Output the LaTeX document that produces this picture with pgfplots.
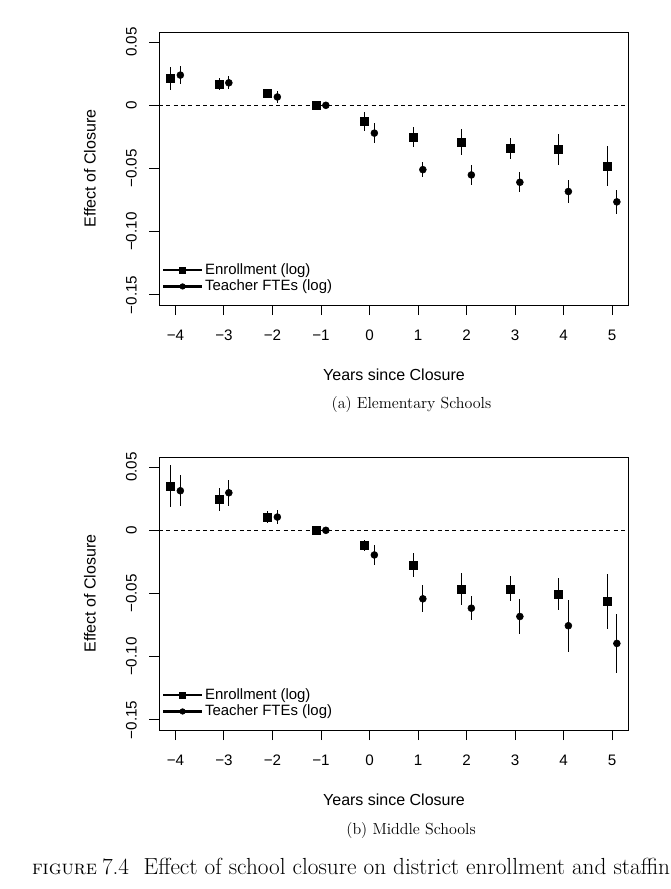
\documentclass[border=0pt]{standalone}
\usepackage{fontspec}
\usepackage{pgfplots}
\usepackage{pgfplotstable}
\pgfplotsset{compat=1.18}
\newfontfamily\plotfont{Liberation Sans}

% Panel (a): Elementary schools
\pgfplotstableread{
x y e
-4.1 0.0215 0.0092
-3.1 0.0168 0.0048
-2.1 0.0097 0.0028
-1.1 0.0000 0.0000
-0.1 -0.0126 0.0075
0.9 -0.0252 0.0080
1.9 -0.0291 0.0101
2.9 -0.0341 0.0080
3.9 -0.0349 0.0120
4.9 -0.0480 0.0160
}\elemenroll
\pgfplotstableread{
x y e
-3.9 0.0239 0.0072
-2.9 0.0178 0.0051
-1.9 0.0066 0.0048
-0.9 0.0000 0.0000
0.1 -0.0220 0.0078
1.1 -0.0509 0.0057
2.1 -0.0551 0.0076
3.1 -0.0609 0.0078
4.1 -0.0682 0.0089
5.1 -0.0764 0.0097
}\elemteach
% Panel (b): Middle schools
\pgfplotstableread{
x y e
-4.1 0.0350 0.0169
-3.1 0.0245 0.0090
-2.1 0.0105 0.0046
-1.1 0.0000 0.0000
-0.1 -0.0121 0.0042
0.9 -0.0274 0.0094
1.9 -0.0463 0.0124
2.9 -0.0463 0.0098
3.9 -0.0505 0.0129
4.9 -0.0563 0.0215
}\midenroll
\pgfplotstableread{
x y e
-3.9 0.0313 0.0123
-2.9 0.0297 0.0105
-1.9 0.0105 0.0058
-0.9 0.0000 0.0000
0.1 -0.0195 0.0082
1.1 -0.0542 0.0107
2.1 -0.0616 0.0094
3.1 -0.0682 0.0140
4.1 -0.0755 0.0206
5.1 -0.0895 0.0235
}\midteach

\pgfplotsset{
  enr/.style={forget plot, only marks, mark=square*, mark size=3pt, black,
    error bars/.cd, y dir=both, y explicit, error mark=none,
    error bar style={line width=0.75pt, black}, /pgfplots/.cd},
  tch/.style={forget plot, only marks, mark=*, mark size=2.6pt, black,
    error bars/.cd, y dir=both, y explicit, error mark=none,
    error bar style={line width=0.75pt, black}, /pgfplots/.cd},
  zeroline/.style={black, line width=0.75pt, dash pattern=on 3pt off 2.5pt, forget plot},
  legimg/.style={black, line width=2pt, mark options={solid, line width=0.4pt},
    legend image code/.code={\draw[##1, mark repeat=2, mark phase=2] plot coordinates {(0pt,0pt) (14.6pt,0pt) (29.25pt,0pt)};}},
  closure/.style={
    scale only axis, width=352.5pt, height=204.75pt,
    xmin=-4.34, xmax=5.35, ymin=-0.158, ymax=0.058,
    xtick={-4,-3,-2,-1,0,1,2,3,4,5},
    xticklabels={−4,−3,−2,−1,0,1,2,3,4,5},
    ytick={-0.15,-0.1,-0.05,0,0.05},
    yticklabels={−0.15,−0.10,−0.05,0,0.05},
    xtick pos=lower, ytick pos=left, tick align=outside,
    major tick length=7.5pt,
    every tick/.style={black, line width=0.75pt},
    axis line style={line width=0.75pt},
    xticklabel style={font=\plotfont\fontsize{11.4}{13}\selectfont, anchor=north},
    yticklabel style={font=\plotfont\fontsize{11.4}{13}\selectfont, rotate=90, anchor=south},
    xticklabel shift=7.8pt, yticklabel shift=5.6pt,
    xlabel={Years since Closure}, ylabel={Effect of Closure},
    label style={font=\plotfont\fontsize{12}{14}\selectfont},
    xlabel style={at={(axis description cs:0.5,-0.256)}, anchor=center},
    ylabel style={at={(axis description cs:-0.147,0.5)}, anchor=center},
    legend style={draw=none, fill=none, inner sep=0pt, outer sep=0pt,
      at={(axis description cs:0.006,0.042)}, anchor=south west,
      font=\plotfont\fontsize{11.2}{12}\selectfont,
      row sep=1.7pt,
      nodes={inner xsep=1.2pt, inner ysep=0.5pt}},
    legend cell align=left,
  }
}

\begin{document}
\begin{tikzpicture}
\path[use as bounding box] (0pt,0pt) rectangle (503.25pt,-666.75pt);

\begin{axis}[closure, at={(119.25pt,-228.75pt)}, anchor=south west]
\addplot[zeroline] coordinates {(-4.34,0) (5.35,0)};
\addplot[enr] table[x=x, y=y, y error=e] {\elemenroll};
\addplot[tch] table[x=x, y=y, y error=e] {\elemteach};
\addlegendimage{legimg, mark=square*, mark size=2.25pt}
\addlegendentry{Enrollment (log)}
\addlegendimage{legimg, mark=*, mark size=2.1pt}
\addlegendentry{Teacher FTEs (log)}
\end{axis}

\begin{axis}[closure, at={(119.25pt,-547.5pt)}, anchor=south west]
\addplot[zeroline] coordinates {(-4.34,0) (5.35,0)};
\addplot[enr] table[x=x, y=y, y error=e] {\midenroll};
\addplot[tch] table[x=x, y=y, y error=e] {\midteach};
\addlegendimage{legimg, mark=square*, mark size=2.25pt}
\addlegendentry{Enrollment (log)}
\addlegendimage{legimg, mark=*, mark size=2.1pt}
\addlegendentry{Teacher FTEs (log)}
\end{axis}

\node[font=\fontsize{12}{14}\selectfont, inner sep=0pt] at (308.6pt,-303.75pt) {(a) Elementary Schools};
\node[font=\fontsize{12}{14}\selectfont, inner sep=0pt] at (308.3pt,-622.5pt) {(b) Middle Schools};

\node[font=\fontsize{15}{17}\selectfont, inner sep=0pt, anchor=base west] at (23.8pt,-655.5pt) {\textsc{figure}};
\node[font=\fontsize{17.4}{19}\selectfont, inner sep=0pt, anchor=base west] at (76.3pt,-655.5pt) {7.4};
\node[font=\fontsize{17.45}{19}\selectfont, inner sep=0pt, anchor=base east] at (502.8pt,-655.5pt) {Effect of school closure on district enrollment and staffin};
\end{tikzpicture}
\end{document}
